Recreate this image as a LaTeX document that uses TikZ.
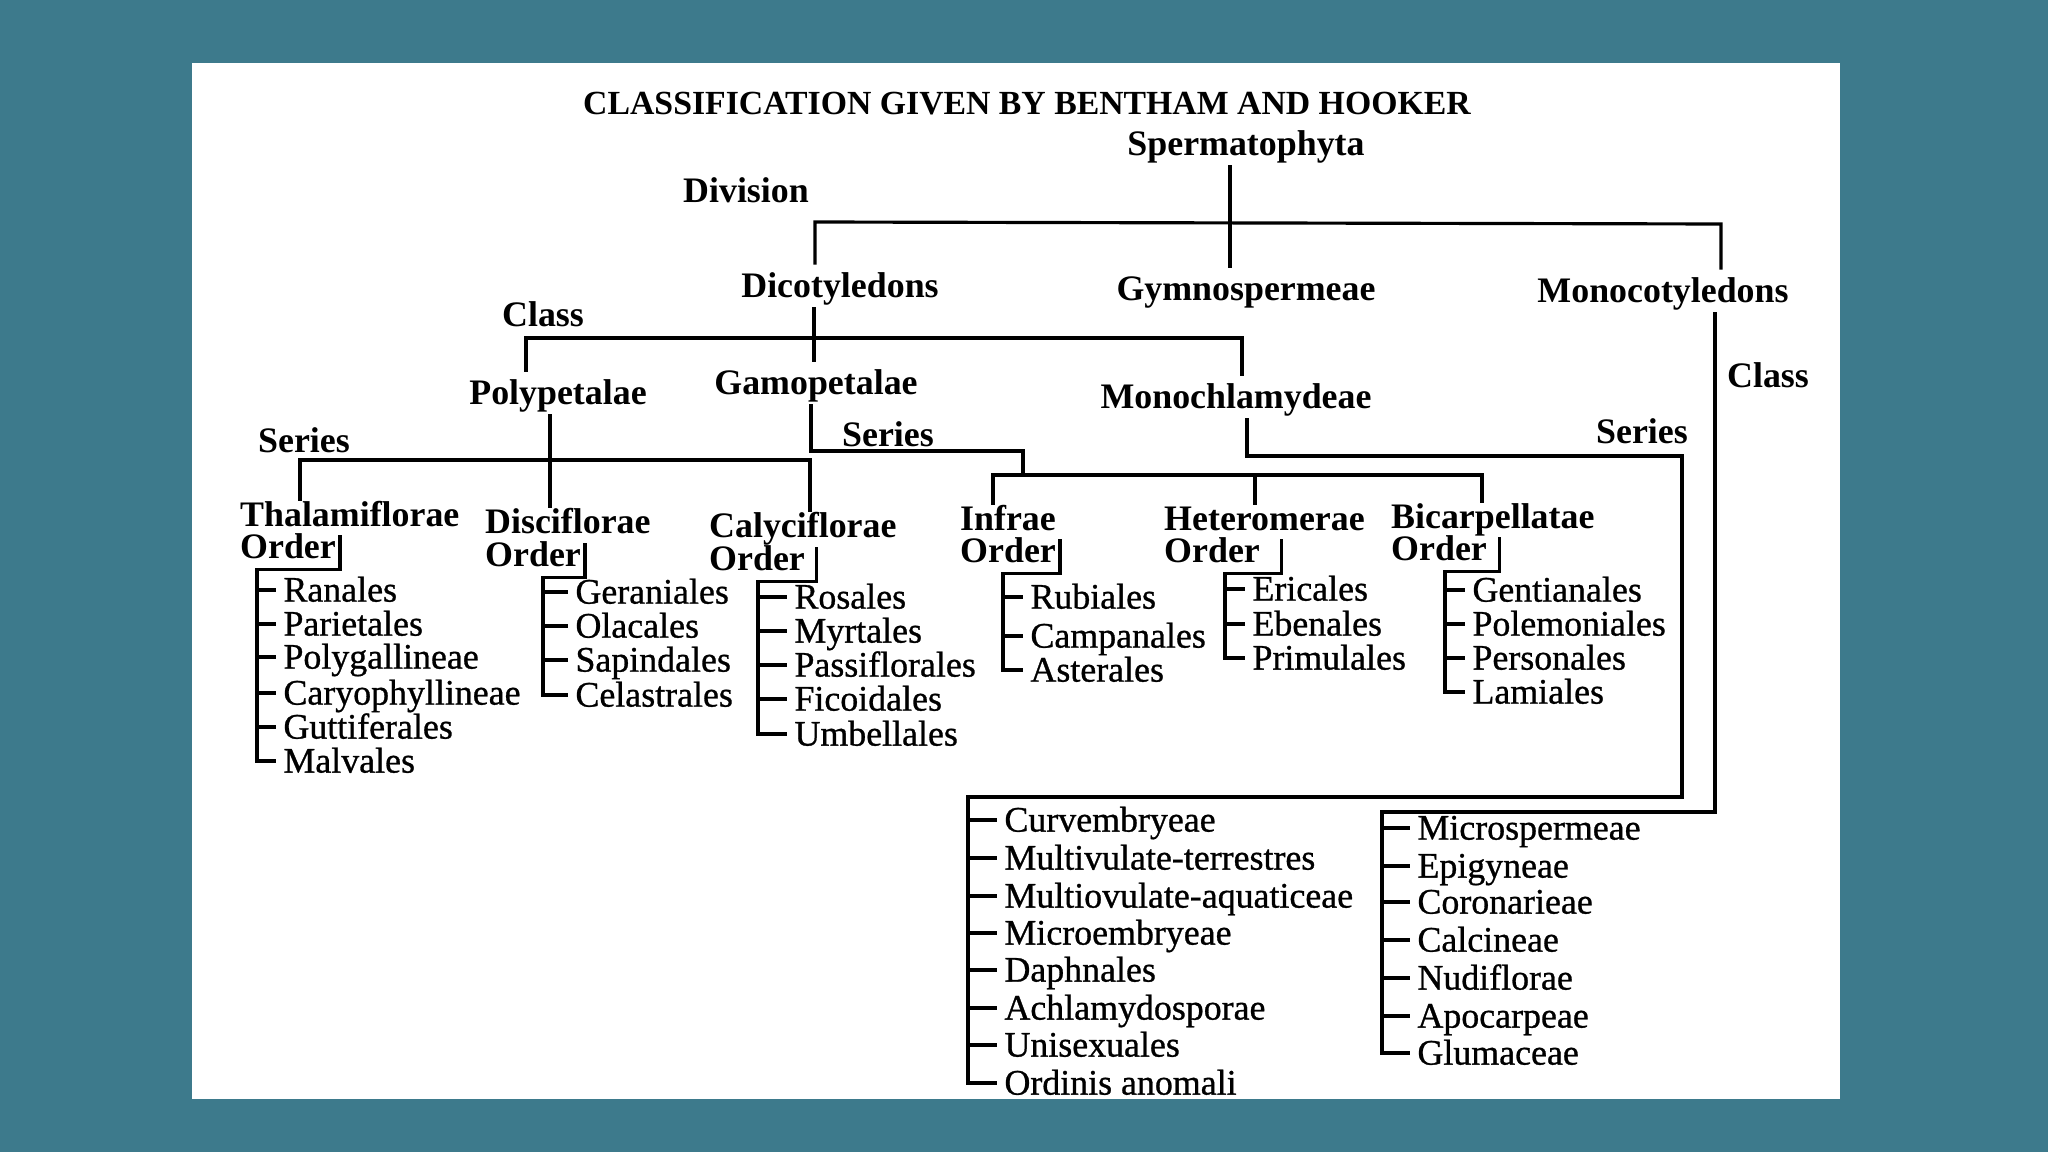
\documentclass[tikz,border=0pt]{standalone}
\usepackage{fontspec}
\setmainfont{Liberation Serif}
\newfontfamily\itemfont[FakeBold=0.8]{Liberation Serif}
\definecolor{slateteal}{RGB}{61,122,140}
\tikzset{
  tree/.style={line width=0.9pt,line cap=rect,line join=miter},
  head/.style={font=\bfseries\fontsize{10.2}{12}\selectfont,inner xsep=1pt,inner ysep=3pt,
    text height=6.6pt,text depth=0pt},
  rank/.style={head,anchor=west,inner ysep=0.8pt},
  heading/.style={font=\bfseries\fontsize{9.6}{11}\selectfont,inner sep=1pt},
  item/.style={anchor=west,font=\itemfont\fontsize{10.2}{12}\selectfont,inner xsep=2.5pt,
    inner ysep=0pt,text height=6.6pt,text depth=0pt}
}
\begin{document}
\begin{tikzpicture}[x=0.01cm,y=-0.01cm]
  \fill[slateteal] (0,0) rectangle (2048,1152);
  \useasboundingbox (0,0) rectangle (2048,1152);
  \fill[white] (192,63) rectangle (1840,1099);

  \node[heading] (title) at (1027,104) {CLASSIFICATION GIVEN BY BENTHAM AND HOOKER};

  % top levels
  \node[head] (sperm) at (1246,144) {Spermatophyta};
  \node[head] (division) at (746,191) {Division};
  \node[head] (dicot) at (840,286) {Dicotyledons};
  \node[head] (gymno) at (1246,289) {Gymnospermeae};
  \node[head] (monocot) at (1663,291) {Monocotyledons};
  \node[head] (classL) at (543,315) {Class};
  \node[head] (classR) at (1768,376) {Class};
  \node[head] (poly) at (558,393) {Polypetalae};
  \node[head] (gamo) at (816,383) {Gamopetalae};
  \node[head] (monochl) at (1236,397) {Monochlamydeae};
  \node[head] (seriesA) at (304,441) {Series};
  \node[head] (seriesB) at (888,435) {Series};
  \node[head] (seriesC) at (1642,432) {Series};

  \coordinate (divL) at (815,222);
  \coordinate (divM) at (1230,222);
  \coordinate (divR) at (1721,224);
  \draw[tree] (dicot.north -| divL) -- (divL) -- (divR) -- (monocot.north -| divR);
  \draw[tree] (sperm.south -| divM) -- (gymno.north -| divM);

  \coordinate (clsL) at (526,338);
  \coordinate (clsM) at (814,338);
  \coordinate (clsR) at (1242,338);
  \draw[tree] (poly.north -| clsL) -- (clsL) -- (clsR) -- (monochl.north -| clsR);
  \draw[tree] (dicot.south -| clsM) -- (gamo.north -| clsM);

  % series names
  \node[rank] (thala) at (236,515) {Thalamiflorae};
  \node[rank] (thalaO) at (236,547) {Order};
  \node[rank] (disci) at (481,522) {Disciflorae};
  \node[rank] (disciO) at (481,555) {Order};
  \node[rank] (calyc) at (705,526) {Calyciflorae};
  \node[rank] (calycO) at (705,559) {Order};
  \node[rank] (infrae) at (956,519) {Infrae};
  \node[rank] (infraeO) at (956,551) {Order};
  \node[rank] (hetero) at (1160,519) {Heteromerae};
  \node[rank] (heteroO) at (1160,551) {Order};
  \node[rank] (bicarp) at (1387,517) {Bicarpellatae};
  \node[rank] (bicarpO) at (1387,549) {Order};

  \coordinate (serL) at (300,460);
  \coordinate (serM) at (550,460);
  \coordinate (serR) at (810,460);
  \draw[tree] (thala.north -| serL) -- (serL) -- (serR) -- (calyc.north -| serR);
  \draw[tree] (poly.south -| serM) -- (disci.north -| serM);

  \coordinate (gamoK) at (811,451);
  \coordinate (gamoJ) at (1023,451);
  \coordinate (gserL) at (993,475);
  \coordinate (gserM) at (1255,475);
  \coordinate (gserR) at (1482,475);
  \draw[tree] (gamo.south -| gamoK) -- (gamoK) -- (gamoJ) -- (gamoJ |- gserL);
  \draw[tree] (infrae.north -| gserL) -- (gserL) -- (gserR) -- (bicarp.north -| gserR);
  \draw[tree] (gserM) -- (hetero.north -| gserM);

  % orders
  \coordinate (thalaV) at (257,0);
  \foreach \nm/\y [count=\i] in {Ranales/590,Parietales/624,Polygallineae/657,
      Caryophyllineae/693,Guttiferales/727,Malvales/761}
    \node[item] (thala\i) at (274,\y) {\nm};
  \draw[tree] ([yshift=3pt]thalaO.east) -- ([yshift=-2.2pt]thalaO.south east) -| (thala6.west -| thalaV);
  \foreach \i in {1,...,6}
    \draw[tree] (thala\i.west) -- (thala\i.west -| thalaV);

  \coordinate (disciV) at (543,0);
  \foreach \nm/\y [count=\i] in {Geraniales/592,Olacales/626,Sapindales/660,Celastrales/695}
    \node[item] (disci\i) at (566,\y) {\nm};
  \draw[tree] ([yshift=3pt]disciO.east) -- ([yshift=-2.2pt]disciO.south east) -| (disci4.west -| disciV);
  \foreach \i in {1,...,4}
    \draw[tree] (disci\i.west) -- (disci\i.west -| disciV);

  \coordinate (calycV) at (758,0);
  \foreach \nm/\y [count=\i] in {Rosales/597,Myrtales/631,Passiflorales/665,Ficoidales/699,Umbellales/734}
    \node[item] (calyc\i) at (785,\y) {\nm};
  \draw[tree] ([yshift=3pt,xshift=2pt]calycO.east) -- ([yshift=-2.2pt,xshift=2pt]calycO.south east) -| (calyc5.west -| calycV);
  \foreach \i in {1,...,5}
    \draw[tree] (calyc\i.west) -- (calyc\i.west -| calycV);

  \coordinate (infraeV) at (1003,0);
  \foreach \nm/\y [count=\i] in {Rubiales/597,Campanales/636,Asterales/670}
    \node[item] (infrae\i) at (1021,\y) {\nm};
  \draw[tree] ([yshift=3pt]infraeO.east) -- ([yshift=-2.2pt]infraeO.south east) -| (infrae3.west -| infraeV);
  \foreach \i in {1,...,3}
    \draw[tree] (infrae\i.west) -- (infrae\i.west -| infraeV);

  \coordinate (heteroV) at (1225,0);
  \foreach \nm/\y [count=\i] in {Ericales/589,Ebenales/624,Primulales/658}
    \node[item] (hetero\i) at (1243,\y) {\nm};
  \draw[tree] ([yshift=3pt,xshift=5pt]heteroO.east) -- ([yshift=-2.2pt,xshift=5pt]heteroO.south east) -| (hetero3.west -| heteroV);
  \foreach \i in {1,...,3}
    \draw[tree] (hetero\i.west) -- (hetero\i.west -| heteroV);

  \coordinate (bicarpV) at (1445,0);
  \foreach \nm/\y [count=\i] in {Gentianales/590,Polemoniales/624,Personales/658,Lamiales/692}
    \node[item] (bicarp\i) at (1463,\y) {\nm};
  \draw[tree] ([yshift=3pt,xshift=2.5pt]bicarpO.east) -- ([yshift=-2.2pt,xshift=2.5pt]bicarpO.south east) -| (bicarp4.west -| bicarpV);
  \foreach \i in {1,...,4}
    \draw[tree] (bicarp\i.west) -- (bicarp\i.west -| bicarpV);

  % monochlamydeae series
  \foreach \nm/\y [count=\i] in {Curvembryeae/820,Multivulate-terrestres/858,Multiovulate-aquaticeae/896,
      Microembryeae/933,Daphnales/970,Achlamydosporae/1008,Unisexuales/1045,Ordinis anomali/1083}
    \node[item] (mch\i) at (995,\y) {\nm};
  \coordinate (mchK) at (1247,456);
  \coordinate (mchR) at (1682,456);
  \coordinate (mchB) at (1682,797);
  \coordinate (mchV) at (968,797);
  \draw[tree] (monochl.south -| mchK) -- (mchK) -- (mchR) -- (mchB) -- (mchV) -- (mch8.west -| mchV);
  \foreach \i in {1,...,8}
    \draw[tree] (mch\i.west) -- (mch\i.west -| mchV);

  % monocotyledons series
  \foreach \nm/\y [count=\i] in {Microspermeae/828,Epigyneae/866,Coronarieae/902,Calcineae/940,
      Nudiflorae/978,Apocarpeae/1016,Glumaceae/1053}
    \node[item] (mc\i) at (1408,\y) {\nm};
  \coordinate (mcK) at (1715,812);
  \coordinate (mcV) at (1382,812);
  \draw[tree] (monocot.south -| mcK) -- (mcK) -- (mcV) -- (mc7.west -| mcV);
  \foreach \i in {1,...,7}
    \draw[tree] (mc\i.west) -- (mc\i.west -| mcV);
\end{tikzpicture}
\end{document}
